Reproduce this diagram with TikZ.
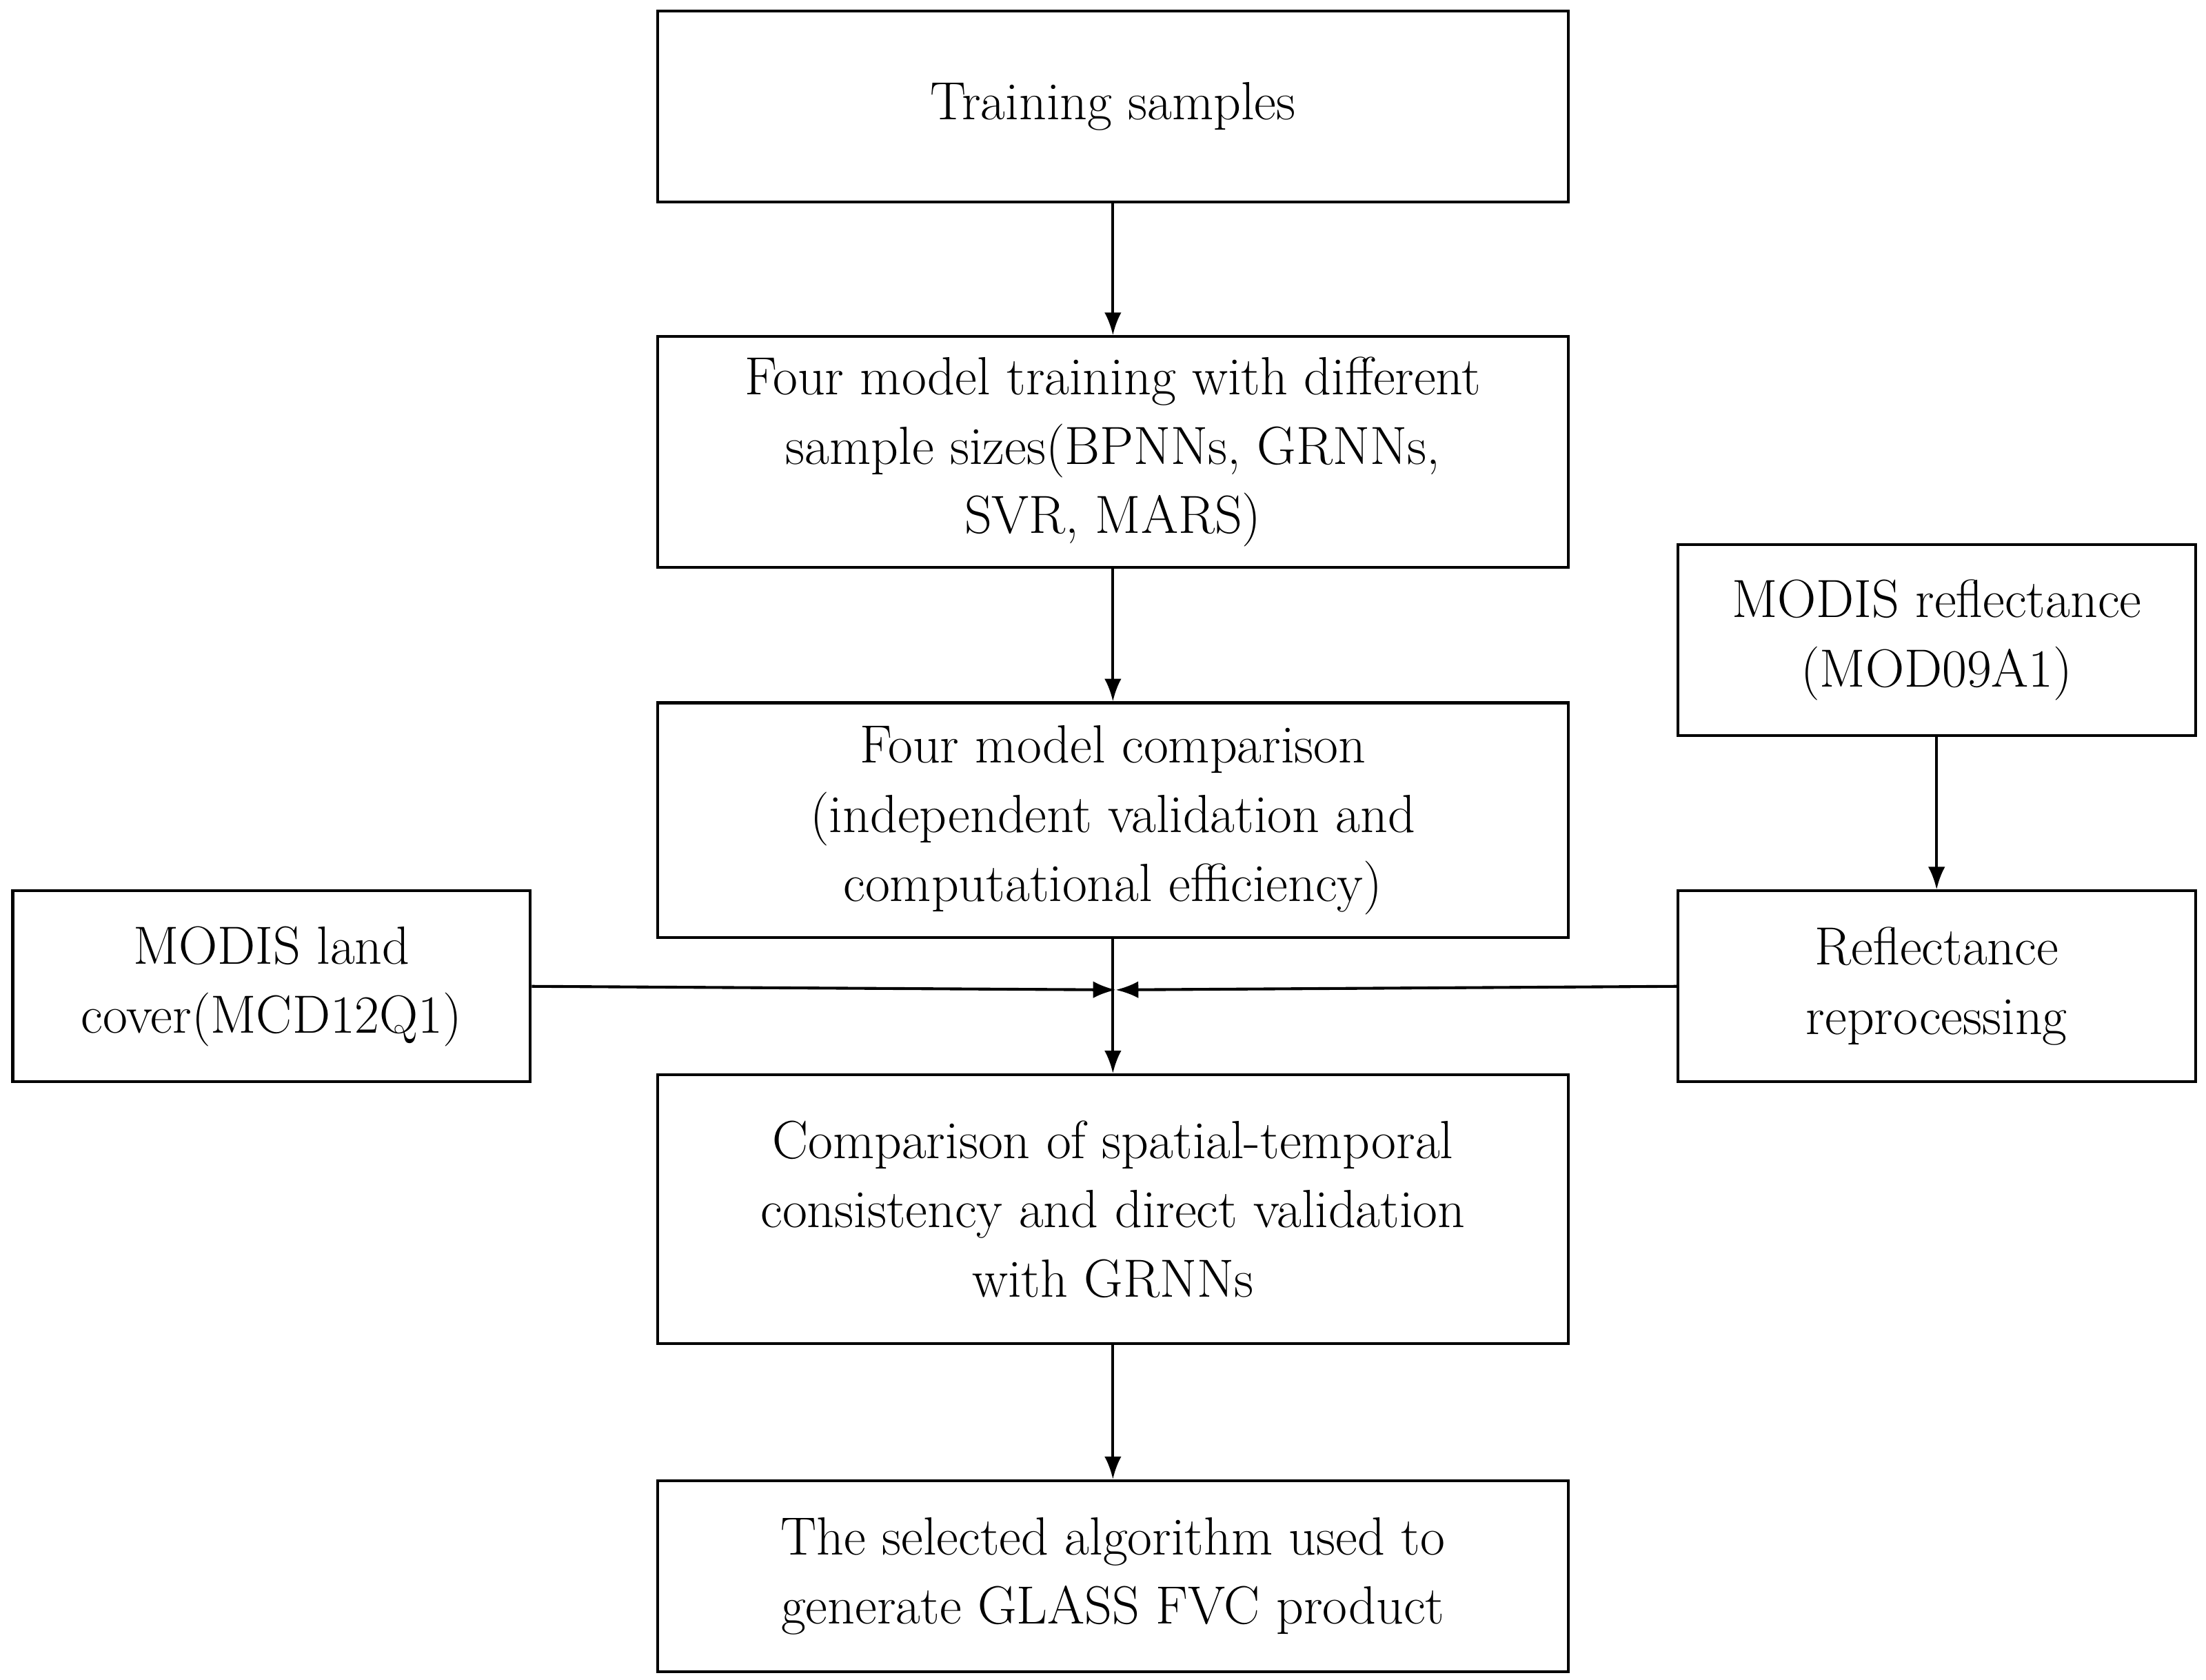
\documentclass[tikz,border=0pt]{standalone}
\usepackage{tikz}
\usetikzlibrary{arrows.meta}

\begin{document}
\begin{tikzpicture}
[x=0.5pt,y=-0.5pt,
box/.style={draw,line width=1pt,align=center,font=\fontsize{19}{24.5}\selectfont,inner sep=0pt},
wide/.style={box,minimum width=322pt},
small/.style={box,minimum width=183pt,minimum height=67.5pt},
arr/.style={-{Latex[length=8pt,width=6pt]},line width=1pt}]
\useasboundingbox (0,0) rectangle (1560,1188);
\node[wide,minimum height=67.5pt] (train) at (787,75.5) {Training samples};
\node[wide,minimum height=81.5pt] (four) at (787,319.5) {Four model training with different\\sample sizes(BPNNs, GRNNs,\\SVR, MARS)};
\node[wide,minimum height=83pt] (comp) at (787,580) {Four model comparison\\(independent validation and\\computational efficiency)};
\node[wide,minimum height=95pt] (spat) at (787,855) {Comparison of spatial-temporal\\consistency and direct validation\\with GRNNs};
\node[wide,minimum height=67.5pt] (sel) at (787,1114.5) {The selected algorithm used to\\generate GLASS FVC product};
\node[small] (land) at (192,697.5) {MODIS land\\cover(MCD12Q1)};
\node[small] (refl) at (1369.5,452.5) {MODIS reflectance\\(MOD09A1)};
\node[small] (repro) at (1369.5,697.5) {Reflectance\\reprocessing};
\coordinate (junc) at (789,700);
\draw[arr] (train) -- (four);
\draw[arr] (four) -- (comp);
\draw[arr] (comp) -- (spat);
\draw[arr] (spat) -- (sel);
\draw[arr] (refl) -- (repro);
\draw[arr] (land.east) -- (junc);
\draw[arr] (repro.west) -- (junc);
\end{tikzpicture}
\end{document}
